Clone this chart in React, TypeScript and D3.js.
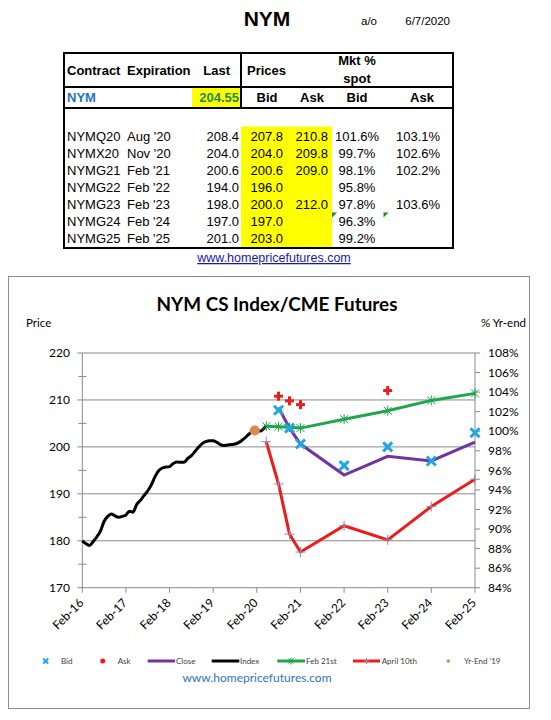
import * as d3 from 'd3';

// ---- table data ----
const CONTRACTS = ['NYMQ20', 'NYMX20', 'NYMG21', 'NYMG22', 'NYMG23', 'NYMG24', 'NYMG25'];
const EXPIRATIONS = ["Aug '20", "Nov '20", "Feb '21", "Feb '22", "Feb '23", "Feb '24", "Feb '25"];
const LAST = [208.4, 204.0, 200.6, 194.0, 198.0, 197.0, 201.0];
const BID = [207.8, 204.0, 200.6, 196.0, 200.0, 197.0, 203.0];
const ASK: (number | null)[] = [210.8, 209.8, 209.0, null, 212.0, null, null];
const BID_PCT = ['101.6%', '99.7%', '98.1%', '95.8%', '97.8%', '96.3%', '99.2%'];
const ASK_PCT = ['103.1%', '102.6%', '102.2%', '', '103.6%', '', ''];
const SPOT = 204.55;
const AS_OF = '6/7/2020';

// ---- chart data ----
const FWD_DATES = ['2020-08-01', '2020-11-01', '2021-02-01', '2022-02-01', '2023-02-01', '2024-02-01', '2025-02-01'];
const SPOT_DATE = '2020-04-20';
// monthly CS index, Feb-16 .. Mar-20
const INDEX_START = '2016-02-01';
const INDEX_VALUES = [
  180.0, 179.4, 179.0, 179.8, 180.8, 182.0, 184.1, 185.2, 185.7, 185.3, 185.0, 185.2,
  185.5, 186.3, 186.1, 187.7, 188.6, 189.6, 190.6, 191.9, 193.6, 194.9, 195.5, 195.7,
  195.8, 196.4, 196.8, 196.7, 196.7, 197.5, 198.1, 199.0, 199.9, 200.7, 201.1, 201.3,
  201.3, 201.0, 200.5, 200.3, 200.4, 200.5, 200.6, 200.9, 201.4, 202.1, 202.8, 203.4,
  203.5, 203.4,
];
const FEB21_VALUES = [204.4, 204.3, 204.2, 204.0, 205.9, 207.7, 209.9, 211.4];
const APR10_VALUES = [201.1, 192.1, 181.4, 177.6, 183.2, 180.2, 187.3, 193.1];
const YR_END_DATE = '2020-01-15';
const YR_END = 203.5;

const X_TICKS = ['2016-02-01', '2017-02-01', '2018-02-01', '2019-02-01', '2020-02-01', '2021-02-01', '2022-02-01', '2023-02-01', '2024-02-01', '2025-02-01'];
const Y_MAJOR = [170, 180, 190, 200, 210, 220];
const Y_MINOR = [175, 185, 195, 205, 215];
const PCT_TICKS = [84, 86, 88, 90, 92, 94, 96, 98, 100, 102, 104, 106, 108];

const C = {
  bid: '#1fa7e4',
  ask: '#ee1b1b',
  close: '#7133a3',
  index: '#000000',
  feb21: '#1ea64b',
  apr10: '#ee1b1b',
  apr10Mark: '#9c86ab',
  yrEnd: '#dc8a4c',
  grid: '#8a8a8a',
};

const parse = d3.timeParse('%Y-%m-%d');
const TF = '"Liberation Sans", Arial, sans-serif';
const CF = 'Lato, "Open Sans", sans-serif';

function Cross({ x, y, r, color, w }: { x: number; y: number; r: number; color: string; w: number }) {
  return (
    <g stroke={color} strokeWidth={w}>
      <line x1={x - r} y1={y - r} x2={x + r} y2={y + r} />
      <line x1={x - r} y1={y + r} x2={x + r} y2={y - r} />
    </g>
  );
}
function Plus({ x, y, r, color, w }: { x: number; y: number; r: number; color: string; w: number }) {
  return (
    <g stroke={color} strokeWidth={w}>
      <line x1={x - r} y1={y} x2={x + r} y2={y} />
      <line x1={x} y1={y - r} x2={x} y2={y + r} />
    </g>
  );
}
function Star({ x, y, r, color }: { x: number; y: number; r: number; color: string }) {
  return (
    <g stroke={color} strokeWidth={1}>
      <line x1={x - r} y1={y - r} x2={x + r} y2={y + r} />
      <line x1={x - r} y1={y + r} x2={x + r} y2={y - r} />
      <line x1={x} y1={y - r - 1} x2={x} y2={y + r + 1} />
    </g>
  );
}

function Table() {
  const L = 64, R = 453, T = 53, H1 = 87, H2 = 108, B = 248, DIV = 241;
  const rowY = (i: number) => 140.7 + i * 17.1;
  return (
    <g fontFamily={TF}>
      <text x={267} y={26} textAnchor="middle" fontSize={21} fontWeight="bold">NYM</text>
      <text x={361} y={25} fontSize={11.5}>a/o</text>
      <text x={450} y={25} fontSize={11.5} textAnchor="end">{AS_OF}</text>

      <rect x={192} y={88} width={49} height={20} fill="#ffff00" />
      <rect x={241} y={126.5} width={91} height={121} fill="#ffff00" />

      <rect x={L} y={T} width={R - L} height={B - T} fill="none" stroke="#000" strokeWidth={2} />
      <line x1={L} x2={R} y1={H1} y2={H1} stroke="#000" strokeWidth={2} />
      <line x1={L} x2={R} y1={H2} y2={H2} stroke="#000" strokeWidth={2} />
      <line x1={DIV} x2={DIV} y1={T} y2={H2} stroke="#000" strokeWidth={2} />

      <g fontWeight="bold" fontSize={13}>
        <text x={67} y={75}>Contract</text>
        <text x={127} y={75}>Expiration</text>
        <text x={230} y={75} textAnchor="end">Last</text>
        <text x={247} y={75}>Prices</text>
        <text x={357} y={65} textAnchor="middle">Mkt %</text>
        <text x={357} y={82.5} textAnchor="middle">spot</text>
        <text x={67} y={102} fill="#1f74be">NYM</text>
        <text x={239} y={102} textAnchor="end" fill="#1d8a5c">{SPOT.toFixed(2)}</text>
        <text x={267} y={102} textAnchor="middle">Bid</text>
        <text x={312} y={102} textAnchor="middle">Ask</text>
        <text x={357} y={102} textAnchor="middle">Bid</text>
        <text x={422} y={102} textAnchor="middle">Ask</text>
      </g>

      <g fontSize={13}>
        {CONTRACTS.map((c, i) => (
          <g key={c}>
            <text x={67} y={rowY(i)}>{c}</text>
            <text x={127} y={rowY(i)}>{EXPIRATIONS[i]}</text>
            <text x={239} y={rowY(i)} textAnchor="end">{LAST[i].toFixed(1)}</text>
            <text x={283} y={rowY(i)} textAnchor="end">{BID[i].toFixed(1)}</text>
            {ASK[i] != null && <text x={328} y={rowY(i)} textAnchor="end">{ASK[i]!.toFixed(1)}</text>}
            <text x={357} y={rowY(i)} textAnchor="middle">{BID_PCT[i]}</text>
            {ASK_PCT[i] && <text x={418} y={rowY(i)} textAnchor="middle">{ASK_PCT[i]}</text>}
          </g>
        ))}
      </g>
      <path d="M332,212.5 h5 l-5,5 z" fill="#1a8c1a" />
      <path d="M383.5,212.5 h5 l-5,5 z" fill="#1a8c1a" />

      <text x={274} y={262} textAnchor="middle" fontSize={12.5} fill="#1a1aa8" textDecoration="underline">
        www.homepricefutures.com
      </text>
    </g>
  );
}

function Chart() {
  const x = d3.scaleTime().domain([parse('2016-02-01')!, parse('2025-02-01')!]).range([82.3, 475]);
  const y = d3.scaleLinear().domain([170, 220]).range([587.7, 353]);
  const yp = d3.scaleLinear().domain([84, 108]).range([587.7, 353]);

  const start = parse(INDEX_START)!;
  const indexPts: [Date, number][] = INDEX_VALUES.map((v, i) => [d3.timeMonth.offset(start, i), v]);
  indexPts.push([parse(SPOT_DATE)!, SPOT]);
  const fwd = FWD_DATES.map(d => parse(d)!);
  const fwdWithSpot = [parse(SPOT_DATE)!, ...fwd];

  const line = d3.line<[Date, number]>().x(d => x(d[0])).y(d => y(d[1])).curve(d3.curveMonotoneX);
  const straight = d3.line<[Date, number]>().x(d => x(d[0])).y(d => y(d[1]));

  const feb21: [Date, number][] = fwdWithSpot.map((d, i) => [d, FEB21_VALUES[i]]);
  const apr10: [Date, number][] = fwdWithSpot.map((d, i) => [d, APR10_VALUES[i]]);
  const close: [Date, number][] = fwd.map((d, i) => [d, LAST[i]]);

  const xl = 82.3, xr = 475;
  const legY = 661;

  return (
    <g fontFamily={CF}>
      <rect x={8.5} y={276.5} width={521} height={432} fill="#fff" stroke="#8c8c8c" strokeWidth={1} />
      <text x={277} y={311} textAnchor="middle" fontSize={18.5} fontWeight="bold" textLength={241} lengthAdjust="spacingAndGlyphs">NYM CS Index/CME Futures</text>
      <text x={26} y={327} fontSize={11.5}>Price</text>
      <text x={526} y={327} fontSize={11.5} textAnchor="end">% Yr-end</text>

      {/* grid + axes */}
      {Y_MAJOR.filter(v => v > 170).map(v => (
        <line key={v} x1={xl} x2={xr} y1={y(v)} y2={y(v)} stroke={C.grid} strokeWidth={1} />
      ))}
      <line x1={xl} x2={xr} y1={y(170)} y2={y(170)} stroke={C.grid} />
      <line x1={xl} x2={xl} y1={y(220)} y2={y(170)} stroke={C.grid} />
      <line x1={xr} x2={xr} y1={y(220)} y2={y(170)} stroke={C.grid} />
      {Y_MAJOR.map(v => (
        <g key={v}>
          <line x1={xl - 5} x2={xl} y1={y(v)} y2={y(v)} stroke={C.grid} />
          <text x={70} y={y(v)} dy="0.35em" textAnchor="end" fontSize={12}>{v}</text>
        </g>
      ))}
      {Y_MINOR.map(v => (
        <line key={v} x1={xl - 4} x2={xl + 4} y1={y(v)} y2={y(v)} stroke={C.grid} />
      ))}
      {PCT_TICKS.map(v => (
        <g key={v}>
          <line x1={xr} x2={xr + 5} y1={yp(v)} y2={yp(v)} stroke={C.grid} />
          <text x={488} y={yp(v)} dy="0.35em" fontSize={12}>{v}%</text>
        </g>
      ))}
      {X_TICKS.map(d => {
        const tx = x(parse(d)!);
        return (
          <g key={d}>
            <line x1={tx} x2={tx} y1={y(170)} y2={y(170) + 5} stroke={C.grid} />
            <text transform={`translate(${tx + 2},${y(170) + 16}) rotate(-45)`} textAnchor="end" fontSize={12}>
              {d3.timeFormat('%b-%y')(parse(d)!)}
            </text>
          </g>
        );
      })}

      {/* series */}
      <path d={line(indexPts)!} fill="none" stroke={C.index} strokeWidth={3} strokeLinejoin="round" />
      <path d={straight(feb21)!} fill="none" stroke={C.feb21} strokeWidth={3} />
      {feb21.map((d, i) => <Star key={i} x={x(d[0])} y={y(d[1])} r={4} color={C.feb21} />)}
      <path d={straight(apr10)!} fill="none" stroke={C.apr10} strokeWidth={3} />
      {apr10.map((d, i) => <Plus key={i} x={x(d[0])} y={y(d[1])} r={5} color={C.apr10Mark} w={1} />)}
      <path d={straight(close)!} fill="none" stroke={C.close} strokeWidth={3} />
      {fwd.map((d, i) => <Cross key={i} x={x(d)} y={y(BID[i])} r={4.5} color={C.bid} w={3} />)}
      {fwd.map((d, i) => ASK[i] != null ? <Plus key={i} x={x(d)} y={y(ASK[i]!)} r={4.5} color={C.ask} w={3} /> : null)}
      <circle cx={x(parse(YR_END_DATE)!)} cy={y(YR_END)} r={5} fill={C.yrEnd} />

      {/* legend */}
      <g fontSize={8} fill="#404040">
        <Cross x={45.7} y={legY} r={2.5} color={C.bid} w={2} />
        <text x={61} y={legY} dy="0.35em">Bid</text>
        <circle cx={102.7} cy={legY} r={2.5} fill={C.ask} />
        <text x={117.7} y={legY} dy="0.35em">Ask</text>
        <line x1={147.7} x2={175} y1={legY} y2={legY} stroke={C.close} strokeWidth={3} />
        <text x={176} y={legY} dy="0.35em">Close</text>
        <line x1={211.7} x2={239.3} y1={legY} y2={legY} stroke={C.index} strokeWidth={3} />
        <text x={240} y={legY} dy="0.35em">Index</text>
        <line x1={277.3} x2={305} y1={legY} y2={legY} stroke={C.feb21} strokeWidth={3} />
        <Star x={291} y={legY} r={2.5} color={C.feb21} />
        <text x={306} y={legY} dy="0.35em">Feb 21st</text>
        <line x1={353} x2={380} y1={legY} y2={legY} stroke={C.apr10} strokeWidth={3} />
        <Plus x={366.5} y={legY} r={3} color={C.apr10Mark} w={1} />
        <text x={381.7} y={legY} dy="0.35em">April 10th</text>
        <circle cx={448.3} cy={legY} r={1.8} fill={C.yrEnd} />
        <text x={464} y={legY} dy="0.35em">Yr-End '19</text>
      </g>
      <text x={257} y={682} textAnchor="middle" fontSize={12} fill="#2e75b6">www.homepricefutures.com</text>
    </g>
  );
}

export default function App() {
  return (
    <svg width={551} height={720} style={{ position: 'absolute', left: 0, top: 0, background: '#fff' }}>
      <rect width={551} height={720} fill="#fff" />
      <Table />
      <Chart />
    </svg>
  );
}
